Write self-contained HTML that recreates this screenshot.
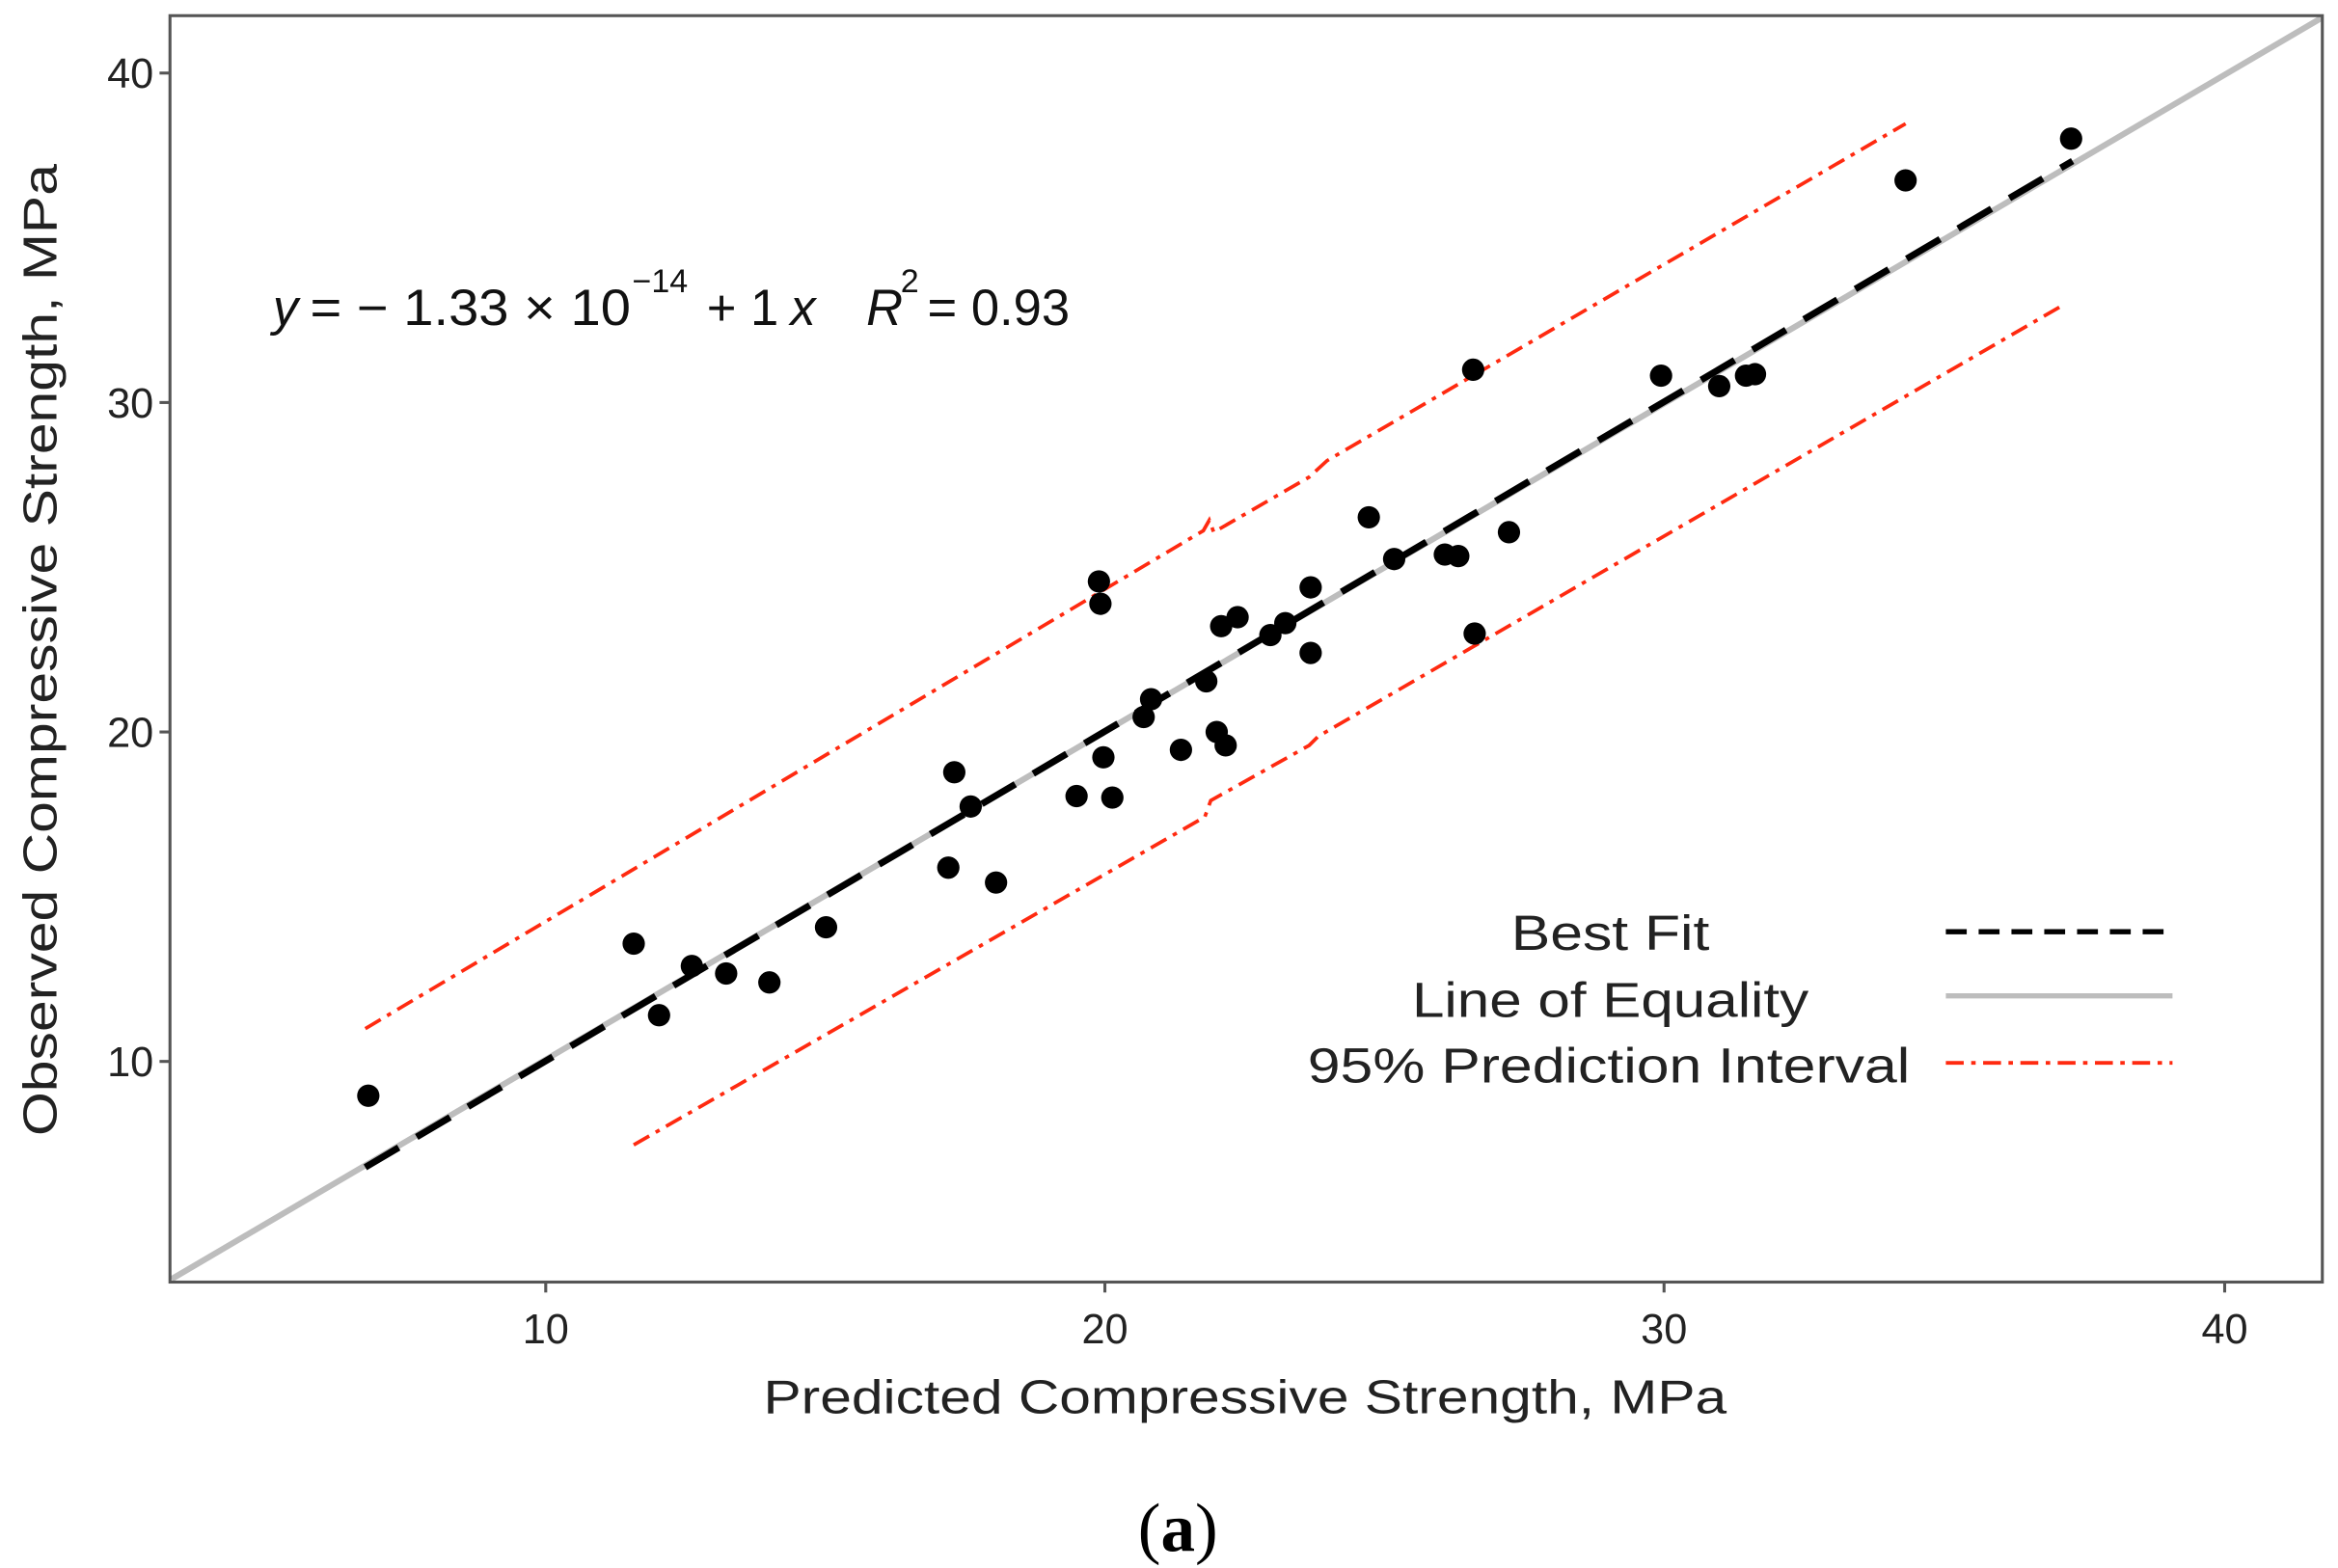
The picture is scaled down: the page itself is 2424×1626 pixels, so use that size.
<!DOCTYPE html>
<html><head><meta charset="utf-8"><style>html,body{margin:0;padding:0;background:#fff}svg{display:block}</style></head>
<body>
<svg width="2424" height="1626" viewBox="0 0 1568 1051.8" xmlns="http://www.w3.org/2000/svg" font-family="Liberation Sans, Arial, sans-serif">
<rect width="1568" height="1052" fill="#fff"/>
<line x1="115" y1="858" x2="1557" y2="12" stroke="#bdbdbd" stroke-width="4"/>
<line x1="245" y1="783" x2="1390" y2="108" stroke="#000" stroke-width="4.5" stroke-dasharray="26,14"/>
<polyline fill="none" stroke="#ff2a10" stroke-width="2.4" stroke-dasharray="12,5,3,5" points="245,690 807,356 811,349 814,357 878,320 890,309 1278,83"/>
<polyline fill="none" stroke="#ff2a10" stroke-width="2.4" stroke-dasharray="12,5,3,5" points="425,768 808,548 812,537 878,500 884,494 1383,205"/>
<g fill="#000">
<circle cx="247" cy="735" r="7.5"/><circle cx="425" cy="633" r="7.5"/><circle cx="442" cy="681" r="7.5"/><circle cx="464" cy="648" r="7.5"/><circle cx="487" cy="653" r="7.5"/><circle cx="516" cy="659" r="7.5"/><circle cx="554" cy="622" r="7.5"/><circle cx="636" cy="582" r="7.5"/><circle cx="640" cy="518" r="7.5"/><circle cx="651" cy="541" r="7.5"/><circle cx="668" cy="592" r="7.5"/><circle cx="722" cy="534" r="7.5"/><circle cx="737" cy="390" r="7.5"/><circle cx="738" cy="405" r="7.5"/><circle cx="740" cy="508" r="7.5"/><circle cx="746" cy="535" r="7.5"/><circle cx="767" cy="481" r="7.5"/><circle cx="772" cy="469" r="7.5"/><circle cx="792" cy="503" r="7.5"/><circle cx="809" cy="457" r="7.5"/><circle cx="816" cy="491" r="7.5"/><circle cx="819" cy="420" r="7.5"/><circle cx="822" cy="500" r="7.5"/><circle cx="830" cy="414" r="7.5"/><circle cx="852" cy="426" r="7.5"/><circle cx="862" cy="418" r="7.5"/><circle cx="879" cy="394" r="7.5"/><circle cx="879" cy="438" r="7.5"/><circle cx="918" cy="347" r="7.5"/><circle cx="935" cy="375" r="7.5"/><circle cx="969" cy="372" r="7.5"/><circle cx="978" cy="373" r="7.5"/><circle cx="988" cy="248" r="7.5"/><circle cx="989" cy="425" r="7.5"/><circle cx="1012" cy="357" r="7.5"/><circle cx="1114" cy="252" r="7.5"/><circle cx="1153" cy="259" r="7.5"/><circle cx="1171" cy="252" r="7.5"/><circle cx="1177" cy="251" r="7.5"/><circle cx="1278" cy="121" r="7.5"/><circle cx="1389" cy="93" r="7.5"/>
</g>
<rect x="114" y="10.5" width="1443.5" height="849.5" fill="none" stroke="#555" stroke-width="2"/>
<g stroke="#555" stroke-width="2">
<line x1="366" y1="860" x2="366" y2="867"/><line x1="741" y1="860" x2="741" y2="867"/><line x1="1116" y1="860" x2="1116" y2="867"/><line x1="1492" y1="860" x2="1492" y2="867"/>
<line x1="107" y1="49" x2="114" y2="49"/><line x1="107" y1="270" x2="114" y2="270"/><line x1="107" y1="491" x2="114" y2="491"/><line x1="107" y1="712" x2="114" y2="712"/>
</g>
<g font-size="28" fill="#222" text-anchor="middle">
<text x="366" y="901">10</text><text x="741" y="901">20</text><text x="1116" y="901">30</text><text x="1492" y="901">40</text>
</g>
<g font-size="28" fill="#222" text-anchor="end">
<text x="103" y="59">40</text><text x="103" y="280">30</text><text x="103" y="501">20</text><text x="103" y="722">10</text>
</g>
<text x="835" y="948" font-size="32" fill="#222" text-anchor="middle" textLength="646" lengthAdjust="spacingAndGlyphs">Predicted Compressive Strength, MPa</text>
<text transform="translate(38,436) rotate(-90)" font-size="32" fill="#222" text-anchor="middle" textLength="652" lengthAdjust="spacingAndGlyphs">Observed Compressive Strength, MPa</text>
<g font-size="34" fill="#111">
<text x="183" y="218" font-style="italic">y</text>
<text x="208" y="218" textLength="215" lengthAdjust="spacingAndGlyphs">= − 1.33 × 10</text>
<text x="424" y="196" font-size="22">−14</text>
<text x="474" y="218">+ 1</text>
<text x="530" y="218" font-style="italic">x</text>
<text x="581" y="218" font-style="italic">R</text>
<text x="604" y="196" font-size="22">2</text>
<text x="622" y="218">= 0.93</text>
</g>
<g font-size="33" fill="#222" text-anchor="middle">
<text x="1080" y="637" textLength="133" lengthAdjust="spacingAndGlyphs">Best Fit</text>
<text x="1080" y="682" textLength="266" lengthAdjust="spacingAndGlyphs">Line of Equality</text>
<text x="1079" y="726" textLength="404" lengthAdjust="spacingAndGlyphs">95% Prediction Interval</text>
</g>
<line x1="1305" y1="625" x2="1457" y2="625" stroke="#000" stroke-width="3.5" stroke-dasharray="14,8"/>
<line x1="1305" y1="668" x2="1457" y2="668" stroke="#bdbdbd" stroke-width="3.5"/>
<line x1="1305" y1="713" x2="1457" y2="713" stroke="#ff2a10" stroke-width="2.5" stroke-dasharray="12,5,3,5"/>
<text x="790" y="1040" font-family="Liberation Serif, serif" font-size="46" text-anchor="middle" fill="#000">(<tspan font-weight="bold">a</tspan>)</text>
</svg>
</body></html>
